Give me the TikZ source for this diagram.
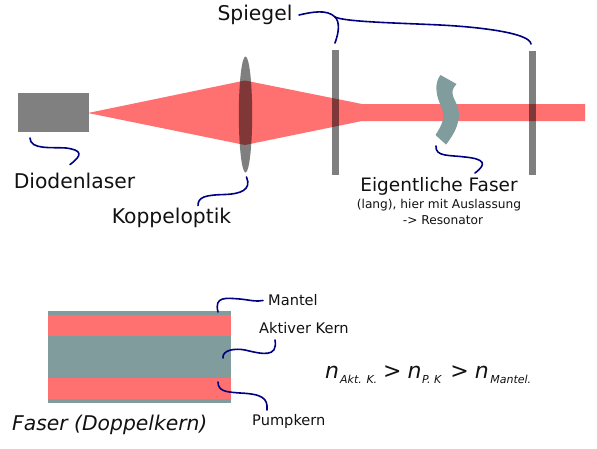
\documentclass[tikz,border=0pt]{standalone}
\usepackage{fontspec}
\setmainfont{DejaVu Sans}
\definecolor{beam}{HTML}{FF7070}
\definecolor{fibre}{HTML}{809C9C}
\definecolor{leader}{HTML}{000080}
\definecolor{inktext}{HTML}{111111}
\newcommand{\fs}[1]{\fontsize{#1}{#1}\selectfont}
\newcommand{\subtxt}[1]{\raisebox{-5pt}{\fs{11}#1}}
\tikzset{
  x=1pt,y=-1pt,
  label20/.style={inner sep=0pt,text=inktext,font=\fs{20.3}},
  label18/.style={inner sep=0pt,text=inktext,font=\fs{18.5}},
  label12/.style={inner sep=0pt,text=inktext,font=\fs{12.2}},
  label14/.style={inner sep=0pt,text=inktext,font=\fs{14.6}},
  optic/.style={fill=black,fill opacity=.5,draw=none},
  leadline/.style={draw=leader,line width=1.6pt,line cap=round}
}
\begin{document}
\begin{tikzpicture}
\useasboundingbox (0,0) rectangle (597,448);
% beam
\fill[beam] (88,113) -- (245,80.5) -- (362,104) -- (585,104) -- (585,121) -- (362,121) -- (245,145) -- cycle;
% laser
\fill[black!50] (17.5,93) rectangle (89,132);
% lens and mirrors
\path[optic] (245.5,114.5) ellipse [x radius=6.7,y radius=58];
\path[optic] (332,49.5) rectangle (339,174.5);
\path[optic] (529,50.5) rectangle (535.5,175);
% fibre piece
\fill[fibre] (440.5,75) .. controls (434,83) and (436,96) .. (441,106)
  .. controls (445,116) and (444,122) .. (435.5,135)
  -- (446,144.5) .. controls (456,132) and (461,120) .. (458,108)
  .. controls (455,98) and (448,93) .. (456.5,84) -- cycle;
% fibre cross-section
\fill[fibre] (48,311) rectangle (231,403);
\fill[beam] (48,315) rectangle (231,336);
\fill[beam] (48,377.5) rectangle (231,399);
% labels
\node[label20] (spiegel) at (255,15) {Spiegel};
\node[label20] (diode) at (74.5,181) {Diodenlaser};
\node[label20] (koppel) at (171.5,218) {Koppeloptik};
\node[label18] (faser) at (439,186) {Eigentliche Faser};
\node[label12] (lang) at (439,205) {(lang), hier mit Auslassung};
\node[label12] (reso) at (443,220) {-> Resonator};
\node[label14,anchor=west] (mantel) at (268,300) {Mantel};
\node[label14,anchor=west] (aktiv) at (259,328) {Aktiver Kern};
\node[label14,anchor=west] (pump) at (252,421) {Pumpkern};
\node[label20,anchor=west,font=\fs{20.3}\itshape] (doppel) at (12,425) {Faser (Doppelkern)};
\node[inner sep=0pt,anchor=base west,text=inktext,font=\itshape\fs{22}] (formel) at (325,378)
  {n\hspace{1pt}\subtxt{Akt. K.}\hspace{6pt}{\upshape\fs{22}>}\hspace{6pt}n\hspace{0.5pt}\subtxt{P. K}\hspace{9pt}{\upshape\fs{22}>}\hspace{6pt}n\hspace{1.5pt}\subtxt{Mantel.}};
% leader anchors
\coordinate (m1) at (335,43);
\coordinate (m2) at (531,44);
\coordinate (fork) at (335,17);
\coordinate (sp) at (299,15);
\coordinate (las) at (30,138);
\coordinate (ln) at (246.5,177);
\coordinate (fb) at (436,146);
\coordinate (mt) at (218,312);
\coordinate (ak) at (223,358);
\coordinate (pk) at (218,382);
% leaders
\draw[leadline] (sp) .. controls (312,12) and (327,9) .. (fork);
\draw[leadline] (fork) .. controls (340,22) and (339,32) .. (m1);
\draw[leadline] (fork) .. controls (345,22) and (400,23) .. (440,25) .. controls (480,27) and (530,33) .. (m2);
\draw[leadline] (las) .. controls (30,150) and (52,147) .. (66,148) .. controls (82,150) and (83,155) .. (70,164.5);
\draw[leadline] (ln) .. controls (252,190) and (240,194) .. (225,194.5) .. controls (205,195) and (198,197) .. (198,205.5);
\draw[leadline] (fb) .. controls (435,157) and (450,155) .. (465,157) .. controls (485,159) and (487,164) .. (475,173);
\draw[leadline] (mt) .. controls (214,296) and (226,298) .. (240,299) .. controls (250,300) and (256,302) .. (263,300.5);
\draw[leadline] (ak) .. controls (222,350) and (235,348) .. (245,350) .. controls (262,354) and (278,358) .. (275,340);
\draw[leadline] (pk) .. controls (218,392) and (228,392) .. (240,393) .. controls (262,394) and (268,398) .. (267,410);
\end{tikzpicture}
\end{document}
